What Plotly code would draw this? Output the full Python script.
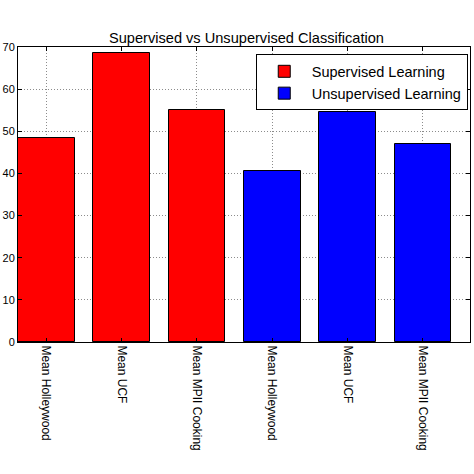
"""Supervised vs unsupervised classification bar chart."""
import plotly.graph_objects as go

categories = ["Mean Holleywood", "Mean UCF", "Mean MPII Cooking"]
supervised = [48.5, 68.6, 55.0]
unsupervised = [40.6, 54.6, 47.0]
y_ticks = [0, 10, 20, 30, 40, 50, 60, 70]

sup_x = list(range(len(categories)))
unsup_x = [i + len(categories) for i in range(len(categories))]

fig = go.Figure()
fig.add_trace(go.Bar(
    x=sup_x, y=supervised, width=0.75, name="Supervised Learning",
    marker=dict(color="#ff0000", line=dict(color="#000000", width=1)),
))
fig.add_trace(go.Bar(
    x=unsup_x, y=unsupervised, width=0.75, name="Unsupervised Learning",
    marker=dict(color="#0000ff", line=dict(color="#000000", width=1)),
))

fig.update_layout(
    width=474,
    height=474,
    margin=dict(l=15, r=3, t=47, b=132),
    plot_bgcolor="white",
    paper_bgcolor="white",
    font=dict(family="Liberation Sans, Arial", size=12, color="#000000"),
    title=dict(
        text="Supervised vs Unsupervised Classification",
        x=0.52, xanchor="center", y=0.92, yanchor="middle",
        font=dict(size=14.6),
    ),
    showlegend=True,
    legend=dict(
        x=0.995, xanchor="right", y=0.975, yanchor="top",
        bordercolor="#000000", borderwidth=1, bgcolor="white",
        font=dict(size=14.5),
        itemwidth=45,
        tracegroupgap=2,
    ),
    bargap=0,
)
grid = dict(
    showgrid=True, gridcolor="rgba(0,0,0,0.45)", griddash="1px,2px", gridwidth=1,
    ticks="inside", ticklen=4, tickcolor="#000000",
    showline=True, linecolor="#000000", linewidth=1, mirror="ticks",
    zeroline=False, layer="above traces",
)
fig.update_xaxes(
    range=[-0.375, 5.625],
    tickvals=sup_x + unsup_x,
    ticktext=categories + categories,
    tickangle=90,
    tickfont=dict(size=12),
    **grid,
)
fig.update_yaxes(
    range=[0, 70],
    tickvals=y_ticks,
    tickfont=dict(size=11),
    **grid,
)

fig.write_html(
    "out.html",
    config={"displayModeBar": False},
    post_script="document.body.style.margin='0';",
)
